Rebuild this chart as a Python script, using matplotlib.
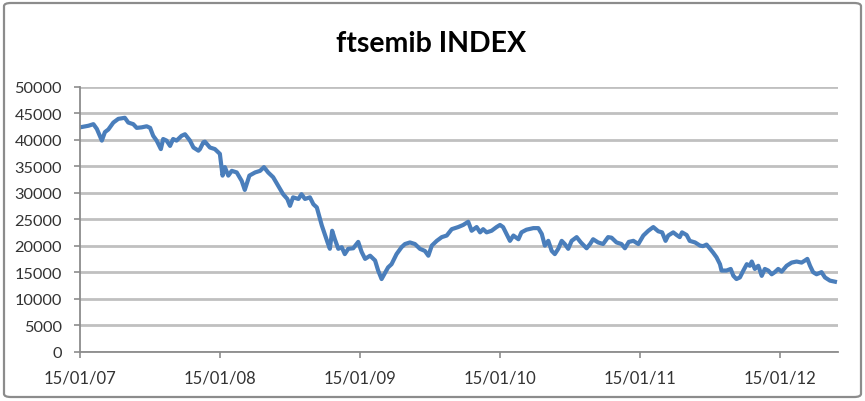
import matplotlib
matplotlib.use("Agg")
import matplotlib.pyplot as plt
import matplotlib.dates as mdates
from matplotlib.patches import FancyBboxPatch
import pandas as pd

title = "ftsemib INDEX"

dates = [
    "2007-01-15", "2007-02-06", "2007-02-19", "2007-02-28", "2007-03-13", "2007-03-21",
    "2007-03-30", "2007-04-12", "2007-04-25", "2007-05-12", "2007-05-21", "2007-06-03",
    "2007-06-12", "2007-06-25", "2007-07-08", "2007-07-17", "2007-07-25", "2007-08-03",
    "2007-08-14", "2007-08-20", "2007-08-29", "2007-09-07", "2007-09-15", "2007-09-24",
    "2007-10-07", "2007-10-16", "2007-10-29", "2007-11-07", "2007-11-20", "2007-11-24",
    "2007-12-03", "2007-12-07", "2007-12-20", "2008-01-02", "2008-01-15", "2008-01-22",
    "2008-01-28", "2008-02-06", "2008-02-15", "2008-02-28", "2008-03-12", "2008-03-20",
    "2008-04-01", "2008-04-16", "2008-04-29", "2008-05-09", "2008-05-20", "2008-06-02",
    "2008-06-15", "2008-06-28", "2008-07-09", "2008-07-16", "2008-07-24", "2008-08-07",
    "2008-08-15", "2008-08-24", "2008-09-06", "2008-09-15", "2008-09-24", "2008-09-30",
    "2008-10-07", "2008-10-13", "2008-10-22", "2008-10-28", "2008-11-03", "2008-11-10",
    "2008-11-19", "2008-11-28", "2008-12-06", "2008-12-15", "2008-12-28", "2009-01-10",
    "2009-01-19", "2009-01-28", "2009-02-10", "2009-02-23", "2009-03-03", "2009-03-12",
    "2009-03-19", "2009-03-29", "2009-04-07", "2009-04-20", "2009-05-03", "2009-05-12",
    "2009-05-25", "2009-06-07", "2009-06-20", "2009-07-03", "2009-07-12", "2009-07-21",
    "2009-08-03", "2009-08-16", "2009-08-29", "2009-09-11", "2009-09-28", "2009-10-11",
    "2009-10-24", "2009-11-02", "2009-11-15", "2009-11-24", "2009-12-02", "2009-12-11",
    "2009-12-24", "2010-01-06", "2010-01-15", "2010-01-23", "2010-02-01", "2010-02-10",
    "2010-02-19", "2010-03-04", "2010-03-12", "2010-03-25", "2010-04-12", "2010-04-25",
    "2010-05-04", "2010-05-12", "2010-05-21", "2010-05-30", "2010-06-07", "2010-06-16",
    "2010-06-25", "2010-07-03", "2010-07-12", "2010-07-21", "2010-08-03", "2010-08-14",
    "2010-08-29", "2010-09-07", "2010-09-15", "2010-09-28", "2010-10-11", "2010-10-24",
    "2010-11-02", "2010-11-15", "2010-11-28", "2010-12-07", "2010-12-17", "2010-12-29",
    "2011-01-11", "2011-01-24", "2011-02-06", "2011-02-19", "2011-03-04", "2011-03-14",
    "2011-03-23", "2011-03-30", "2011-04-12", "2011-04-21", "2011-04-29", "2011-05-05",
    "2011-05-17", "2011-05-25", "2011-06-08", "2011-06-21", "2011-06-29", "2011-07-08",
    "2011-07-17", "2011-07-25", "2011-08-03", "2011-08-12", "2011-08-16", "2011-08-29",
    "2011-09-09", "2011-09-16", "2011-09-24", "2011-10-03", "2011-10-12", "2011-10-21",
    "2011-10-29", "2011-11-03", "2011-11-11", "2011-11-20", "2011-11-29", "2011-12-07",
    "2011-12-16", "2011-12-25", "2012-01-02", "2012-01-11", "2012-01-20", "2012-02-02",
    "2012-02-15", "2012-02-28", "2012-03-12", "2012-03-21", "2012-03-27", "2012-04-03",
    "2012-04-11", "2012-04-20", "2012-05-03", "2012-05-12", "2012-05-25", "2012-06-07",
]

values = [
    42300, 42600, 42900, 42000, 39800, 41400,
    41900, 43200, 43900, 44100, 43200, 42900,
    42200, 42300, 42500, 42200, 40700, 39800,
    38200, 40100, 39800, 38800, 40100, 39800,
    40700, 41000, 39800, 38500, 37900, 38200,
    39500, 39600, 38500, 38200, 37300, 33200,
    34800, 33200, 34100, 33800, 32200, 30500,
    33200, 33800, 34100, 34800, 33800, 32900,
    31300, 29700, 28800, 27500, 29100, 28800,
    29700, 28800, 29100, 27800, 27200, 25600,
    23800, 22500, 20600, 19400, 22800, 21200,
    19400, 19700, 18400, 19400, 19500, 20700,
    18800, 17500, 18100, 17200, 15300, 13700,
    14600, 15900, 16500, 18400, 19700, 20300,
    20600, 20300, 19400, 19000, 18100, 20000,
    20900, 21600, 21900, 23100, 23500, 23900,
    24500, 22800, 23500, 22500, 23100, 22500,
    22800, 23500, 23900, 23500, 22200, 20900,
    21900, 21200, 22500, 23000, 23300, 23300,
    22200, 20000, 20900, 19000, 18400, 19400,
    20900, 20300, 19400, 20900, 21600, 20600,
    19500, 20300, 21200, 20600, 20300, 21600,
    21500, 20600, 20300, 19500, 20700, 20900,
    20300, 21900, 22800, 23500, 22700, 22500,
    20900, 21900, 22500, 22000, 21600, 22500,
    22000, 20900, 20600, 20000, 19900, 20200,
    19400, 18700, 17800, 16500, 15300, 15300,
    15600, 14300, 13700, 14000, 15300, 16500,
    16200, 17000, 15600, 16200, 14300, 15600,
    15300, 14600, 15000, 15600, 15100, 16200,
    16800, 17000, 16800, 17200, 17500, 16200,
    15000, 14600, 15000, 14000, 13400, 13200,
]

y_ticks = [0, 5000, 10000, 15000, 20000, 25000, 30000, 35000, 40000, 45000, 50000]
x_tick_dates = ["2007-01-15", "2008-01-15", "2009-01-15", "2010-01-15", "2011-01-15", "2012-01-15"]
x_end = "2012-06-15"

plt.rcParams['font.family'] = ['Lato', 'DejaVu Sans']

fig = plt.figure(figsize=(8.65, 4.02), dpi=100)
fig.patch.set_facecolor("white")

# chart border
border = FancyBboxPatch((4 / 865, 4 / 402), 857 / 865, 394 / 402,
                        boxstyle="round,pad=0,rounding_size=0.008",
                        transform=fig.transFigure, facecolor="none",
                        edgecolor="#8c8c8c", linewidth=1.6)
fig.patches.append(border)

ax = fig.add_axes([80 / 865, 49.3 / 402, 758 / 865, 265.2 / 402])

x = pd.to_datetime(dates)
ax.plot(x, values, color="#4A7EBB", linewidth=3.0, solid_joinstyle="round")

ax.set_ylim(0, 50000)
ax.set_yticks(y_ticks)
ax.set_yticklabels([str(v) for v in y_ticks])
ax.set_xlim(pd.Timestamp(x_tick_dates[0]), pd.Timestamp(x_end))
ax.set_xticks(pd.to_datetime(x_tick_dates))
ax.xaxis.set_major_formatter(mdates.DateFormatter("%d/%m/%y"))

ax.grid(axis="y", color="#c0c0c0", linewidth=2)
ax.grid(axis="x", visible=False)
ax.set_axisbelow(True)

for s in ["top", "right"]:
    ax.spines[s].set_visible(False)
for s in ["left", "bottom"]:
    ax.spines[s].set_color("#8c8c8c")
    ax.spines[s].set_linewidth(1.3)

ax.tick_params(axis="y", length=4, width=1.2, color="#8c8c8c", pad=9,
               labelsize=11.8, labelcolor="#333333")
ax.tick_params(axis="x", length=4, width=1.2, color="#8c8c8c", pad=9,
               labelsize=12, labelcolor="#333333")

fig.text(431 / 865, 1 - 44 / 402, title, ha="center", va="center",
         fontsize=20.5, fontweight="bold", color="black")

fig.savefig("out.png", dpi=100)
